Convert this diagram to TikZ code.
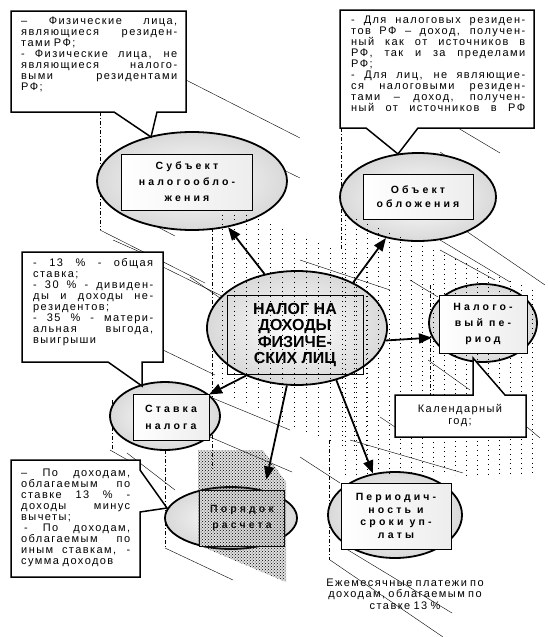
\documentclass[tikz,border=0pt]{standalone}
\usepackage{fontspec}
\setmainfont{Liberation Sans}
\newfontfamily\bodyfont[LetterSpace=13]{Liberation Sans}
\newfontfamily\headfont[LetterSpace=30]{Liberation Sans}
\usetikzlibrary{arrows.meta,patterns,shapes.geometric}
\newcommand{\jl}[1]{\makebox[\hsize][s]{\spaceskip=0.28em plus 1fil minus 0.1em #1}}

\begin{document}
\begin{tikzpicture}[x=1pt, y=-1pt,
  every node/.style={inner sep=0pt},
  oval/.style={ellipse, draw, line width=1.8pt, inner color=white, outer color=gray!30},
  card/.style={draw, line width=0.5pt, left color=white, right color=gray!14},
  callout/.style={draw, line width=1.5pt, fill=white},
  ptxt/.style={font={\bodyfont\fontsize{11}{11}\selectfont\spaceskip=0.3em plus 0.1em},
    align=left, anchor=north west},
  htxt/.style={font={\headfont\bfseries\fontsize{10.5}{16}\selectfont}, align=center},
  arr/.style={-{Triangle[length=13pt,width=10pt]}, line width=1.8pt},
  fine/.style={line width=0.4pt},
  dashv/.style={line width=0.5pt, dash pattern=on 4pt off 2pt on 1pt off 2pt},
  dotv/.style={line width=0.7pt, dash pattern=on 0.8pt off 4pt}]
  \useasboundingbox (0,0) rectangle (548,637);

  \foreach \a/\b/\c/\d in {186/80/300/138, 253/155/300/178, 125/210/175/236, 100/230/205/283,
      458/128/500/153, 440/152/472/173, 450/220/545/285, 440/240/510/282, 440/250/495/280,
      190/277/240/312, 163/267/240/305, 163/350/215/375, 113/240/140/252, 210/397/290/430,
      210/437/292/472, 110/450/140/467, 127/453/175/490, 165/548/233/580, 300/457/340/483,
      330/560/443/637, 350/440/463/473, 343/547/452/613, 410/280/438/297, 428/360/470/390,
      380/417/395/427, 527/427/540/438, 300/260/390/290}
    \draw[fine] (\a,\b) -- (\c,\d);
  \foreach \x/\a/\b in {100/112/230, 112/400/450, 165/450/548, 329/440/560, 341/128/250,
      212/210/470, 430/285/395}
    \draw[dashv] (\x,\a) -- (\x,\b);

  \node[oval, minimum width=190pt, minimum height=98pt] (subj) at (192,181) {};
  \node[oval, minimum width=156pt, minimum height=88pt] (obj) at (418,197) {};
  \node[oval, minimum width=180pt, minimum height=114pt] (tax) at (297,328) {};
  \node[oval, minimum width=108pt, minimum height=78pt] (period) at (483,323) {};
  \node[oval, minimum width=110pt, minimum height=68pt] (stav) at (165,416) {};
  \node[oval, minimum width=132pt, minimum height=62pt] (por) at (231,518) {};
  \node[oval, minimum width=134pt, minimum height=86pt] (perio) at (395,515) {};

  \foreach \x in {222,234,...,370}
    \draw[dotv] (\x,205+0.4*\x-88.8) -- (\x,395+0.45*\x-99.9);
  \foreach \x in {345,356,...,540}
    \draw[dotv] (\x,215+0.4*\x-138) -- (\x,475);

  \node[card, minimum width=131pt, minimum height=56pt, htxt] (subjcard) at (187,182)
    {Субъект\\налогообло-\\жения};
  \node[card, minimum width=110pt, minimum height=45pt, htxt,
    font={\headfont\bfseries\fontsize{10.5}{14}\selectfont}] (objcard) at (418,197)
    {Объект\\обложения};
  \node[draw, line width=0.5pt, minimum width=136pt, minimum height=79pt, align=center,
    font={\bfseries\fontsize{16}{16.5}\selectfont}] (taxcard) at (295,335)
    {НАЛОГ НА\\ДОХОДЫ\\ФИЗИЧЕ-\\СКИХ ЛИЦ};
  \node[card, minimum width=88pt, minimum height=58pt, htxt] (periodcard) at (483,324)
    {Налого-\\вый пе-\\риод};
  \node[card, minimum width=76pt, minimum height=46pt, htxt,
    font={\headfont\bfseries\fontsize{10.5}{17}\selectfont}] (stavcard) at (171,417)
    {Ставка\\налога};
  \node[card, minimum width=85pt, minimum height=56pt, htxt] (porcard) at (242,518)
    {Порядок\\расчета};
  \fill[black!60, fill opacity=0.2]
    (198,450) -- (263,450) -- (286,482) -- (286,582) -- (198,545) -- cycle;
  \fill[pattern=crosshatch dots, pattern color=black]
    (198,450) -- (263,450) -- (286,482) -- (286,582) -- (198,545) -- cycle;
  \node[card, minimum width=110pt, minimum height=66pt, htxt,
    font={\headfont\bfseries\fontsize{10.5}{12.7}\selectfont}] (periocard) at (396,516)
    {Периодич-\\ность и\\сроки уп-\\латы};

  \draw[callout] (11,11) -- (186,11) -- (186,112) -- (157,112) -- (151,137) -- (114,112)
    -- (11,112) -- cycle;
  \node[ptxt, text width=156pt] (subjnote) at (21,16.5)
    {\jl{– Физические лица,}\\
     \jl{являющиеся резиден-}\\
     тами РФ;\\
     \jl{- Физические лица, не}\\
     \jl{являющиеся налого-}\\
     \jl{выми резидентами}\\
     РФ;};
  \draw[callout] (340,10) -- (534,10) -- (534,128) -- (418,128) -- (398,154) -- (366,128)
    -- (340,128) -- cycle;
  \node[ptxt, text width=174pt] (objnote) at (351,15.5)
    {\jl{- Для налоговых резиден-}\\
     \jl{тов РФ – доход, получен-}\\
     \jl{ный как от источников в}\\
     \jl{РФ, так и за пределами}\\
     РФ;\\
     \jl{- Для лиц, не являющие-}\\
     \jl{ся налоговыми резиден-}\\
     \jl{тами – доход, получен-}\\
     \jl{ный от источников в РФ}};
  \draw[callout] (22,252) -- (163,252) -- (163,362) -- (142,362) -- (142,386) -- (108,362)
    -- (22,362) -- cycle;
  \node[ptxt, text width=120pt] (stavnote) at (33,258.5)
    {\jl{- 13 \% - общая}\\
     ставка;\\
     \jl{- 30 \% - дивиден-}\\
     \jl{ды и доходы не-}\\
     резидентов;\\
     \jl{- 35 \% - матери-}\\
     \jl{альная выгода,}\\
     выигрыши};
  \draw[callout] (11,460) -- (140,460) -- (140,470) -- (167,508) -- (140,512) -- (140,577)
    -- (11,577) -- cycle;
  \node[ptxt, text width=109pt] (pornote) at (21,468.5)
    {\jl{– По доходам,}\\
     \jl{облагаемым по}\\
     \jl{ставке 13 \% -}\\
     \jl{доходы минус}\\
     вычеты;\\
     \jl{\hspace{3pt}- По доходам,}\\
     \jl{облагаемым по}\\
     \jl{иным ставкам, -}\\
     сумма доходов};
  \draw[callout] (395,395) -- (473,395) -- (473,358) -- (505,395) -- (526,395) -- (526,437)
    -- (395,437) -- cycle;
  \node[align=center, font={\bodyfont\fontsize{11}{12}\selectfont\spaceskip=0.3em}]
    (periodnote) at (460,416) {Календарный\\год;};
  \node[align=center, font={\bodyfont\fontsize{11}{11.5}\selectfont\spaceskip=0.3em}]
    (perionote) at (405,594) {Ежемесячные платежи по\\доходам, облагаемым по\\ставке 13 \%};

  \draw[arr] (tax.121) -- (subj.-52);
  \draw[arr] (tax.39) -- (obj.232);
  \draw[arr] (tax.-8) -- (period.196);
  \draw[arr] (tax.223) -- (stav.26);
  \draw[arr, shorten >=11pt] (tax.260) -- (por.40);
  \draw[arr] (tax.-53) -- (perio.118);
\end{tikzpicture}
\end{document}
